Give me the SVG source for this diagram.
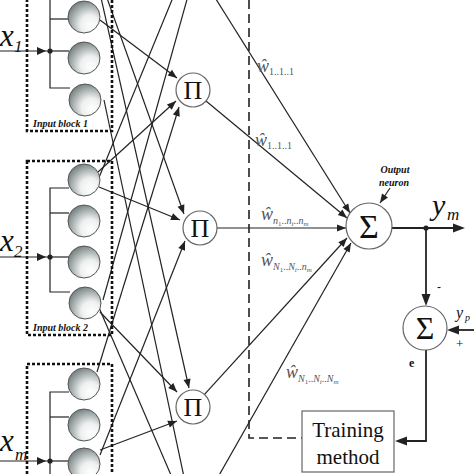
<svg xmlns="http://www.w3.org/2000/svg" width="474" height="474" viewBox="0 0 474 474">
<defs>
<radialGradient id="ng" cx="0.65" cy="0.68" r="0.75" fx="0.72" fy="0.78">
<stop offset="0" stop-color="#ffffff"/>
<stop offset="0.4" stop-color="#eef0f0"/>
<stop offset="1" stop-color="#6e7a7a"/>
</radialGradient>
<marker id="ah" viewBox="0 0 10 10" refX="10" refY="5" markerWidth="10" markerHeight="9" markerUnits="userSpaceOnUse" orient="auto">
<path d="M0,1 L10,5 L0,9 z" fill="#222"/>
</marker>
</defs>
<style>
.n{fill:url(#ng);stroke:#555;stroke-width:1}
.p{fill:#fff;stroke:#666;stroke-width:1.2}
.ln{stroke:#222;stroke-width:1.2;fill:none}
.la{stroke:#222;stroke-width:1.2;fill:none;marker-end:url(#ah)}
.th{stroke:#222;stroke-width:1.8;fill:none}
.box{fill:none;stroke:#111;stroke-width:2.6;stroke-dasharray:3 2}
.dash{fill:none;stroke:#222;stroke-width:1.6;stroke-dasharray:9 5}
.sym{font-family:"Liberation Serif",serif;fill:#111;text-anchor:middle}
.var{font-family:"Liberation Serif",serif;font-style:italic;fill:#111}
.lbl{font-family:"Liberation Serif",serif;font-style:italic;font-weight:bold;fill:#111;font-size:10px}
.w{font-family:"Liberation Serif",serif;font-style:italic;fill:#555}
.tr{font-family:"Liberation Serif",serif;fill:#111;font-size:21px;text-anchor:middle}
</style>

<g id="connectors">
<line class="la" x1="100" y1="20" x2="177" y2="78"/>
<line class="la" x1="98" y1="172" x2="176" y2="101"/>
<line class="la" x1="97" y1="372" x2="179" y2="107"/>
<line class="la" x1="97" y1="-30" x2="184" y2="214"/>
<line class="la" x1="99" y1="187" x2="180" y2="220"/>
<line class="la" x1="100" y1="455" x2="185" y2="241"/>
<line class="la" x1="97" y1="-20" x2="189" y2="388"/>
<line class="la" x1="100" y1="312" x2="177" y2="392"/>
<line class="la" x1="100" y1="450" x2="177" y2="421"/>
<line class="ln" x1="98" y1="180" x2="181" y2="-22"/>
<line class="ln" x1="103" y1="300" x2="193" y2="-22"/>
<line class="ln" x1="97" y1="303" x2="186" y2="510"/>
<line class="ln" x1="104" y1="100" x2="191" y2="510"/>
<line class="la" x1="204" y1="-20" x2="350" y2="213"/>
<line class="la" x1="206" y1="101" x2="347" y2="218"/>
<line class="la" x1="217" y1="228" x2="346" y2="228"/>
<line class="la" x1="204.5" y1="394.4" x2="347" y2="238"/>
<line class="la" x1="205" y1="500" x2="351" y2="243"/>
<line class="th" x1="392" y1="228" x2="455" y2="228"/>
<path d="M465,228 L453,223.5 L453,232.5 z" fill="#222"/>
<circle cx="426" cy="228" r="2.6" fill="#222"/>
<line class="th" x1="426" y1="228" x2="426" y2="295"/>
<path d="M426,306 L421.5,294 L430.5,294 z" fill="#222"/>
<line class="th" x1="474" y1="330" x2="458" y2="330"/>
<path d="M447,330 L459,325.5 L459,334.5 z" fill="#222"/>
<polyline class="th" points="426,350 426,441 405,441"/>
<path d="M395,441 L407,436.5 L407,445.5 z" fill="#222"/>
<line class="la" x1="390" y1="188" x2="380" y2="203"/>
<polyline class="dash" points="249,0 249,438 302,438"/>
<line class="ln" x1="0" y1="51" x2="50" y2="51"/>
<path d="M46,51 L37,47 L37,55 z" fill="#222"/>
<circle cx="50" cy="51" r="2.6" fill="#222"/>
<line class="ln" x1="0" y1="257" x2="50" y2="257"/>
<path d="M46,257 L37,253 L37,261 z" fill="#222"/>
<circle cx="50" cy="257" r="2.6" fill="#222"/>
<line class="ln" x1="0" y1="461" x2="50" y2="461"/>
<path d="M46,461 L37,457 L37,465 z" fill="#222"/>
<circle cx="50" cy="461" r="2.6" fill="#222"/>
<polyline class="ln" points="50,-30 50,88 70,88"/>
<line class="ln" x1="50" y1="19" x2="69" y2="19"/>
<line class="ln" x1="50" y1="51" x2="69" y2="51"/>
<polyline class="ln" points="69,188 50,188 50,292 70,292"/>
<line class="ln" x1="50" y1="213" x2="69" y2="213"/>
<line class="ln" x1="50" y1="257" x2="69" y2="257"/>
<polyline class="ln" points="69,392 50,392 50,480"/>
<line class="ln" x1="50" y1="417" x2="69" y2="417"/>
<line class="ln" x1="50" y1="461" x2="69" y2="461"/>
</g>

<g id="input-block-1">
<rect class="box" x="27" y="-10" width="85" height="141"/>
<circle class="n" cx="84" cy="-24" r="16"/>
<circle class="n" cx="84" cy="17" r="16"/>
<circle class="n" cx="84" cy="58" r="16"/>
<circle class="n" cx="85" cy="100" r="16"/>
<text class="lbl" x="33" y="127">Input block 1</text>
</g>
<g id="input-block-2">
<rect class="box" x="27" y="161" width="85" height="174"/>
<circle class="n" cx="84" cy="180" r="16"/>
<circle class="n" cx="84" cy="221" r="16"/>
<circle class="n" cx="84" cy="262" r="16"/>
<circle class="n" cx="85" cy="303" r="16"/>
<text class="lbl" x="33" y="331">Input block 2</text>
</g>
<g id="input-block-m">
<rect class="box" x="27" y="364" width="85" height="130"/>
<circle class="n" cx="84" cy="384" r="16"/>
<circle class="n" cx="84" cy="425" r="16"/>
<circle class="n" cx="84" cy="464" r="16"/>
</g>

<g id="x1"><text class="var" x="0" y="46" font-size="31">x</text><text class="var" x="14" y="52" font-size="17" font-style="normal">1</text></g>
<g id="x2"><text class="var" x="0" y="251" font-size="31">x</text><text class="var" x="14" y="257" font-size="17" font-style="normal">2</text></g>
<g id="xm"><text class="var" x="0" y="451" font-size="31">x</text><text class="var" x="15" y="460" font-size="17">m</text></g>

<g id="pi0"><circle class="p" cx="196" cy="-38" r="17"/></g>
<g id="pi1"><circle class="p" cx="193" cy="90" r="17"/><text class="sym" x="193" y="99" font-size="26">Π</text></g>
<g id="pi2"><circle class="p" cx="200" cy="228" r="17"/><text class="sym" x="200" y="237" font-size="26">Π</text></g>
<g id="pi3"><circle class="p" cx="193" cy="407" r="17"/><text class="sym" x="193" y="416" font-size="26">Π</text></g>
<g id="pi4"><circle class="p" cx="200" cy="515" r="17"/></g>

<g id="output-neuron">
<circle class="p" cx="369" cy="226" r="23"/>
<text class="sym" x="369" y="238" font-size="34">Σ</text>
<text class="lbl" x="395" y="173" text-anchor="middle">Output</text>
<text class="lbl" x="394" y="186" text-anchor="middle">neuron</text>
</g>
<g id="ym"><text class="var" x="432" y="215" font-size="30">y</text><text class="var" x="447" y="220" font-size="17">m</text></g>

<g id="error-sum">
<circle class="p" cx="425" cy="328" r="22"/>
<text class="sym" x="425" y="339" font-size="32">Σ</text>
<text x="437" y="291" font-family="Liberation Sans,sans-serif" font-size="12" fill="#111">-</text>
<text x="456" y="348" font-family="Liberation Serif,serif" font-size="13" fill="#111">+</text>
<text x="409" y="367" font-family="Liberation Serif,serif" font-size="12" font-weight="bold" fill="#111">e</text>
<text class="var" x="456" y="318" font-size="16">y</text><text class="var" x="465" y="321" font-size="10">p</text>
</g>

<g id="training">
<rect x="302" y="411" width="92" height="61" fill="#fff" stroke="#666" stroke-width="1.2"/>
<text class="tr" x="348" y="437">Training</text>
<text class="tr" x="348" y="464">method</text>
</g>

<g id="weights">
<text class="w" x="257" y="72" font-size="18">ŵ<tspan font-size="10" font-style="normal" dy="3">1..1..1</tspan></text>
<text class="w" x="255" y="146" font-size="18">ŵ<tspan font-size="10" font-style="normal" dy="3">1..1..1</tspan></text>
<text class="w" x="261" y="220" font-size="18">ŵ<tspan font-size="10" dy="4">n</tspan><tspan font-size="7" font-style="normal" dy="2">1</tspan><tspan font-size="10" font-style="normal" dy="-2">..</tspan><tspan font-size="10">n</tspan><tspan font-size="7" dy="2">i</tspan><tspan font-size="10" font-style="normal" dy="-2">..</tspan><tspan font-size="10">n</tspan><tspan font-size="7" dy="2">m</tspan></text>
<text class="w" x="261" y="266" font-size="18">ŵ<tspan font-size="10" dy="4">N</tspan><tspan font-size="7" font-style="normal" dy="2">1</tspan><tspan font-size="10" font-style="normal" dy="-2">..</tspan><tspan font-size="10">N</tspan><tspan font-size="7" dy="2">i</tspan><tspan font-size="10" font-style="normal" dy="-2">..</tspan><tspan font-size="10">n</tspan><tspan font-size="7" dy="2">m</tspan></text>
<text class="w" x="286" y="378" font-size="18">ŵ<tspan font-size="10" dy="4">N</tspan><tspan font-size="7" font-style="normal" dy="2">1</tspan><tspan font-size="10" font-style="normal" dy="-2">..</tspan><tspan font-size="10">N</tspan><tspan font-size="7" dy="2">i</tspan><tspan font-size="10" font-style="normal" dy="-2">..</tspan><tspan font-size="10">N</tspan><tspan font-size="7" dy="2">m</tspan></text>
</g>
</svg>
